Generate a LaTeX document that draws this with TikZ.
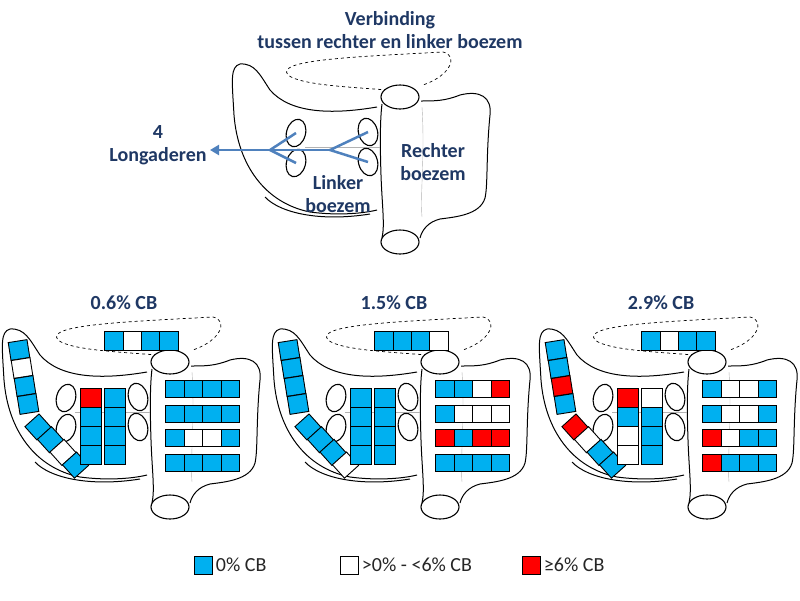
\documentclass[tikz,border=0pt]{standalone}
\usepackage{fontspec}
\setmainfont{Carlito}
\usepackage{tikz}
\usetikzlibrary{arrows.meta,shapes.geometric}
\definecolor{cb}{RGB}{0,176,240}
\definecolor{cw}{RGB}{255,255,255}
\definecolor{cr}{RGB}{255,0,0}
\definecolor{navy}{RGB}{31,56,100}
\definecolor{vein}{RGB}{79,129,189}
\tikzset{
  cell/.style={draw, line width=0.9pt, inner sep=0pt},
  title/.style={text=navy, font=\fontsize{20}{23}\selectfont\bfseries, align=center},
  legend/.style={font=\fontsize{20}{23}\selectfont, anchor=west, text=black!85},
  wall/.style={line width=1pt},
  pv/.style={draw, line width=1.1pt, ellipse, inner sep=0pt}
}
% a row of cells: x, y, dx, dy, width, height, rotation, colours (a macro)
\newcommand\cellrow[8]{%
  \foreach \c [count=\i] in #8
    \node[cell, fill=c\c, minimum width=#5pt, minimum height=#6pt, rotate=#7]
      (cell\i) at ({#1+(\i-1)*#3},{#2+(\i-1)*#4}) {};}
% the outline of the atria
\newcommand\atrium{%
  \draw[wall] (147,372) .. controls (100,380) and (60,378) .. (40,355)
    .. controls (30,340) and (25,328) .. (10,329)
    .. controls (0,332) and (2,345) .. (4,380)
    .. controls (8,430) and (35,468) .. (80,477)
    .. controls (110,481) and (135,478) .. (147,475);
  \draw[wall] (35,462) .. controls (50,478) and (90,487) .. (140,479);
  \draw[wall, dashed, line width=0.7pt] (157,355) .. controls (120,352) and (70,350) .. (58,340)
    .. controls (45,325) and (120,322) .. (213,317)
    .. controls (228,320) and (222,340) .. (193,350);
  \draw[wall] (191,366) .. controls (205,366) and (215,366) .. (230,360)
    .. controls (250,355) and (262,362) .. (260,380)
    .. controls (256,420) and (258,450) .. (255,463)
    .. controls (250,480) and (225,482) .. (210,484)
    .. controls (198,487) and (192,495) .. (190,503);
  \draw[wall] (152,503) .. controls (155,490) and (152,470) .. (151,440)
    .. controls (150,410) and (150,385) .. (152,369);
  \draw[gray!60, line width=0.4pt] (192,372) .. controls (195,420) and (190,460) .. (192,482);
  \draw[gray!60, line width=0.4pt] (75,412) -- (150,412);
  \coordinate (sup) at (170,362);
  \coordinate (inf) at (170,507);
  \draw[line width=1.1pt, fill=white] (sup) ellipse [x radius=19, y radius=12];
  \draw[line width=1.1pt, fill=white] (inf) ellipse [x radius=19, y radius=12];
  \node[pv, minimum width=19pt, minimum height=28pt, rotate=-15] (lsv) at (66,398) {};
  \node[pv, minimum width=19pt, minimum height=28pt, rotate=-15] (liv) at (66,428) {};
  \node[pv, minimum width=19pt, minimum height=28pt, rotate=15] (rsv) at (138,397) {};
  \node[pv, minimum width=19pt, minimum height=28pt, rotate=15] (riv) at (138,427) {};}
\begin{document}
\begin{tikzpicture}[x=1pt, y=-1pt]
\useasboundingbox (0,0) rectangle (800,600);
% overview
\begin{scope}[shift={(230,-265)}]
  \atrium
  \coordinate (split) at (100,415);
  \coordinate (fork) at (40,415);
  \coordinate (tip) at (-20,415);
  \draw[vein, line width=2.5pt] (rsv.center) -- (split) -- (riv.center);
  \draw[vein, line width=2.5pt] (lsv.center) -- (fork) -- (liv.center);
  \draw[vein, line width=2.5pt, -{Triangle[length=9pt,width=10pt]}] (split) -- (tip);
\end{scope}
\node[title] (verb) at (390,30) {Verbinding\\tussen rechter en linker boezem};
\node[title] (long) at (158,145) {4\\Longaderen};
\node[title] (rb) at (433,162) {Rechter\\boezem};
\node[title] (lb) at (338,194) {Linker\\boezem};
% three panels
\foreach \dx/\lab/\tp/\armA/\armB/\colA/\colB/\rA/\rB/\rC/\rD in {
  0/0.6/{b,w,b,b}/{b,w,b,b}/{b,b,w,b}/{r,b,b,b}/{b,b,b,b}/{b,b,b,b}/{b,b,b,b}/{b,w,w,b}/{b,b,b,b},
  270/1.5/{b,b,b,w}/{b,b,b,b}/{b,b,b,w}/{b,b,b,b}/{b,b,b,b}/{b,b,w,r}/{b,w,w,w}/{r,b,r,r}/{b,b,b,b},
  537/2.9/{b,w,b,b}/{b,b,r,b}/{r,w,b,b}/{r,b,w,w}/{w,b,b,b}/{b,w,w,b}/{b,w,w,b}/{r,w,b,b}/{r,b,b,b}}{
  \begin{scope}[shift={(\dx,0)}]
    \atrium
    \node[title] (pct) at (124,303) {\lab\% CB};
    \cellrow{114}{341}{18.3}{0}{18.3}{19}{0}{\tp}
    \cellrow{19}{350}{3}{18}{19}{18}{9}{\armA}
    \cellrow{38}{427}{12.5}{12.7}{19}{18}{42}{\armB}
    \cellrow{90.5}{398}{0}{19}{21}{19}{0}{\colA}
    \cellrow{114.5}{398}{0}{19}{21}{19}{0}{\colB}
    \cellrow{175}{389}{18.5}{0}{18.5}{17}{0}{\rA}
    \cellrow{175}{413.5}{18.5}{0}{18.5}{17}{0}{\rB}
    \cellrow{175}{438}{18.5}{0}{18.5}{17}{0}{\rC}
    \cellrow{175}{462.5}{18.5}{0}{18.5}{17}{0}{\rD}
  \end{scope}}
% legend
\node[cell, fill=cb, minimum size=18pt] (kb) at (203,565) {};
\node[legend] at (kb.east) {0\% CB};
\node[cell, fill=cw, minimum size=18pt] (kw) at (349,565) {};
\node[legend] at (kw.east) {>0\% - <6\% CB};
\node[cell, fill=cr, minimum size=18pt] (kr) at (531,565) {};
\node[legend] at (kr.east) {≥6\% CB};
\end{tikzpicture}
\end{document}
